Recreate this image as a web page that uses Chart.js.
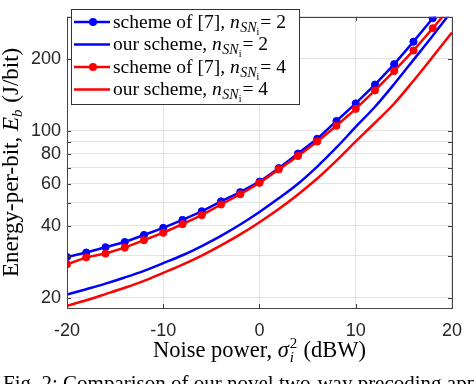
<!DOCTYPE html>
<html lang="en">
<head>
<meta charset="UTF-8">
<title>Energy-per-bit vs noise power</title>
<script src="https://cdn.jsdelivr.net/npm/chart.js"></script>
<style>
    html, body {
        margin: 0;
        padding: 0;
        background: #fff;
        overflow: hidden;
    }
    #wrap {
        width: 474px;
        height: 384px;
    }
</style>
</head>
<body>
<div id="wrap"><canvas id="energyChart" width="474" height="384"></canvas></div>
<script>
// noise power sigma_i^2 (dBW)
const noisePower = [-20, -18, -16, -14, -12, -10, -8, -6, -4, -2, 0, 2, 4, 6, 8, 10, 12, 14, 16, 18, 20];

// energy-per-bit (J/bit) (last point lies above the axes)
const schemeRef2 = [29.6, 30.9, 32.5, 34.2, 36.6, 39.2, 42.3, 46.0, 50.6, 55.3, 61.2, 69.7, 80.2, 92.5, 109.8, 130.1, 156, 190, 236, 296, 370];
const ourScheme2 = [20.6, 21.7, 22.9, 24.3, 25.9, 27.9, 30.1, 32.9, 36.3, 40.5, 45.7, 52.1, 60.0, 70.8, 85.1, 103.8, 126, 157, 198, 250, 318];
const schemeRef4 = [27.6, 29.5, 30.6, 32.4, 34.8, 37.4, 40.6, 44.3, 49.1, 54.2, 60.5, 68.9, 78.4, 90.2, 104.9, 123.5, 147.5, 178, 216.8, 268.7, 335];
const ourScheme4 = [18.5, 19.5, 20.7, 22.0, 23.5, 25.4, 27.5, 30.0, 33.1, 36.8, 41.4, 47.0, 54.1, 63.1, 75.0, 90.2, 108, 130, 162, 204, 258];

const xTicks = [-20, -10, 0, 10, 20];
const yGridValues = [20, 30, 40, 50, 60, 70, 80, 90, 100, 200, 300];
const yTickLabels = [20, 40, 60, 80, 100, 200];

const BLUE = '#0000ff';
const RED = '#ff0000';
const SANS = '"Liberation Sans", Arial, Helvetica, sans-serif';
const SERIF = '"Liberation Serif", "Times New Roman", serif';

function toPoints(values) {
    return noisePower.map((x, i) => ({ x: x, y: values[i] }));
}

// text runs with sub/superscripts: {t, font, dy, noAdvance}
function richWidth(ctx, parts) {
    let w = 0;
    parts.forEach(p => {
        ctx.font = p.font;
        if (!p.noAdvance) w += ctx.measureText(p.t).width + (p.gap || 0);
    });
    return w;
}

function drawRich(ctx, parts, x, y) {
    parts.forEach(p => {
        ctx.font = p.font;
        ctx.fillText(p.t, x, y + (p.dy || 0));
        if (!p.noAdvance) x += ctx.measureText(p.t).width + (p.gap || 0);
    });
    return x;
}

function legendLabel(prefix, n) {
    return [
        { t: prefix, font: `19.5px ${SERIF}` },
        { t: 'n', font: `italic 19.5px ${SERIF}`, gap: 0.5 },
        { t: 'SN', font: `italic 14px ${SERIF}`, dy: 4 },
        { t: 'i', font: `10px ${SERIF}`, dy: 7, gap: 1 },
        { t: '= ' + n, font: `19.5px ${SERIF}` }
    ];
}

const legendItems = [
    { color: BLUE, marker: true, parts: legendLabel('scheme of [7], ', 2) },
    { color: BLUE, marker: false, parts: legendLabel('our scheme, ', 2) },
    { color: RED, marker: true, parts: legendLabel('scheme of [7], ', 4) },
    { color: RED, marker: false, parts: legendLabel('our scheme, ', 4) }
];

const matlabFrame = {
    id: 'matlabFrame',
    afterDraw(chart) {
        const ctx = chart.ctx;
        const area = chart.chartArea;
        const xs = chart.scales.x;
        const ys = chart.scales.y;
        ctx.save();

        // inward ticks on all four sides
        ctx.strokeStyle = '#3a3a3a';
        ctx.lineWidth = 1;
        ctx.beginPath();
        xTicks.forEach(v => {
            const px = Math.round(xs.getPixelForValue(v)) + 0.5;
            ctx.moveTo(px, area.bottom); ctx.lineTo(px, area.bottom - 4);
            ctx.moveTo(px, area.top); ctx.lineTo(px, area.top + 4);
        });
        yGridValues.forEach(v => {
            const py = Math.round(ys.getPixelForValue(v)) + 0.5;
            if (py < area.top || py > area.bottom) return;
            ctx.moveTo(area.left, py); ctx.lineTo(area.left + 4, py);
            ctx.moveTo(area.right, py); ctx.lineTo(area.right - 4, py);
        });
        ctx.stroke();

        // axes box
        ctx.strokeStyle = '#444';
        ctx.strokeRect(Math.round(area.left) + 0.5, Math.round(area.top) + 0.5,
            Math.round(area.right - area.left), Math.round(area.bottom - area.top));

        // legend
        const lx = 71, ly = 9, lw = 228, lh = 95;
        ctx.fillStyle = '#fff';
        ctx.fillRect(lx, ly, lw, lh);
        ctx.strokeStyle = '#333';
        ctx.strokeRect(lx + 0.5, ly + 0.5, lw, lh);
        legendItems.forEach((item, i) => {
            const cy = 22 + i * 22.5;
            ctx.strokeStyle = item.color;
            ctx.lineWidth = 2.5;
            ctx.beginPath();
            ctx.moveTo(74, cy); ctx.lineTo(110, cy);
            ctx.stroke();
            if (item.marker) {
                ctx.fillStyle = item.color;
                ctx.beginPath();
                ctx.arc(93, cy, 4, 0, Math.PI * 2);
                ctx.fill();
            }
            ctx.fillStyle = '#000';
            ctx.textBaseline = 'alphabetic';
            ctx.textAlign = 'left';
            drawRich(ctx, item.parts, 113, cy + 5.5);
        });

        // x axis title
        const xTitle = [
            { t: 'Noise power, ', font: `22.5px ${SERIF}` },
            { t: '\u03C3', font: `italic 22.5px ${SERIF}`, gap: 1 },
            { t: '2', font: `15px ${SERIF}`, dy: -9, noAdvance: true },
            { t: 'i', font: `italic 15px ${SERIF}`, dy: 5, gap: 4 },
            { t: ' (dBW)', font: `22.5px ${SERIF}` }
        ];
        ctx.fillStyle = '#000';
        const xw = richWidth(ctx, xTitle);
        drawRich(ctx, xTitle, (area.left + area.right) / 2 - xw / 2, 357);

        // y axis title
        const yTitle = [
            { t: 'Energy-per-bit, ', font: `23px ${SERIF}` },
            { t: 'E', font: `italic 23px ${SERIF}` },
            { t: 'b', font: `italic 15px ${SERIF}`, dy: 4, gap: 1 },
            { t: ' (J/bit)', font: `23px ${SERIF}` }
        ];
        const yw = richWidth(ctx, yTitle);
        ctx.translate(18, (area.top + area.bottom) / 2);
        ctx.rotate(-Math.PI / 2);
        drawRich(ctx, yTitle, -yw / 2, 0);
        ctx.setTransform(1, 0, 0, 1, 0, 0);

        // figure caption, cut by the image edge
        ctx.font = `21px ${SERIF}`;
        ctx.fillText('Fig. 2: Comparison of our novel two-way precoding approach', 3, 390);

        ctx.restore();
    }
};

new Chart(document.getElementById('energyChart'), {
    type: 'line',
    data: {
        datasets: [
            {
                label: 'scheme of [7], n=2',
                data: toPoints(schemeRef2),
                borderColor: BLUE,
                backgroundColor: BLUE,
                borderWidth: 2.5,
                pointRadius: 3.6,
                pointBorderWidth: 1,
                order: 3
            },
            {
                label: 'our scheme, n=2',
                data: toPoints(ourScheme2),
                borderColor: BLUE,
                backgroundColor: BLUE,
                borderWidth: 2.5,
                pointRadius: 0,
                cubicInterpolationMode: 'monotone',
                order: 2
            },
            {
                label: 'scheme of [7], n=4',
                data: toPoints(schemeRef4),
                borderColor: RED,
                backgroundColor: RED,
                borderWidth: 2.5,
                pointRadius: 3.6,
                pointBorderWidth: 1,
                order: 1
            },
            {
                label: 'our scheme, n=4',
                data: toPoints(ourScheme4),
                borderColor: RED,
                backgroundColor: RED,
                borderWidth: 2.5,
                pointRadius: 0,
                cubicInterpolationMode: 'monotone',
                order: 0
            }
        ]
    },
    options: {
        responsive: false,
        animation: false,
        devicePixelRatio: 1,
        layout: { padding: { top: 4, right: 12, left: 0, bottom: 0 } },
        plugins: {
            legend: { display: false },
            tooltip: { enabled: false }
        },
        scales: {
            x: {
                type: 'linear',
                min: -20,
                max: 20,
                afterBuildTicks: s => { s.ticks = xTicks.map(v => ({ value: v })); },
                afterFit: s => { s.height = 76; },
                grid: { color: '#e3e3e3', drawTicks: false },
                border: { display: false },
                ticks: {
                    padding: 12,
                    color: '#262626',
                    font: { family: SANS, size: 18 },
                    maxRotation: 0
                }
            },
            y: {
                type: 'logarithmic',
                min: 18.1,
                max: 300,
                afterBuildTicks: s => { s.ticks = yGridValues.map(v => ({ value: v })); },
                afterFit: s => { s.width = 67; },
                grid: { color: '#e3e3e3', drawTicks: false },
                border: { display: false },
                ticks: {
                    padding: 6,
                    autoSkip: false,
                    color: '#262626',
                    font: { family: SANS, size: 18 },
                    callback: v => yTickLabels.includes(v) ? String(v) : ''
                }
            }
        }
    },
    plugins: [matlabFrame]
});
</script>
</body>
</html>
